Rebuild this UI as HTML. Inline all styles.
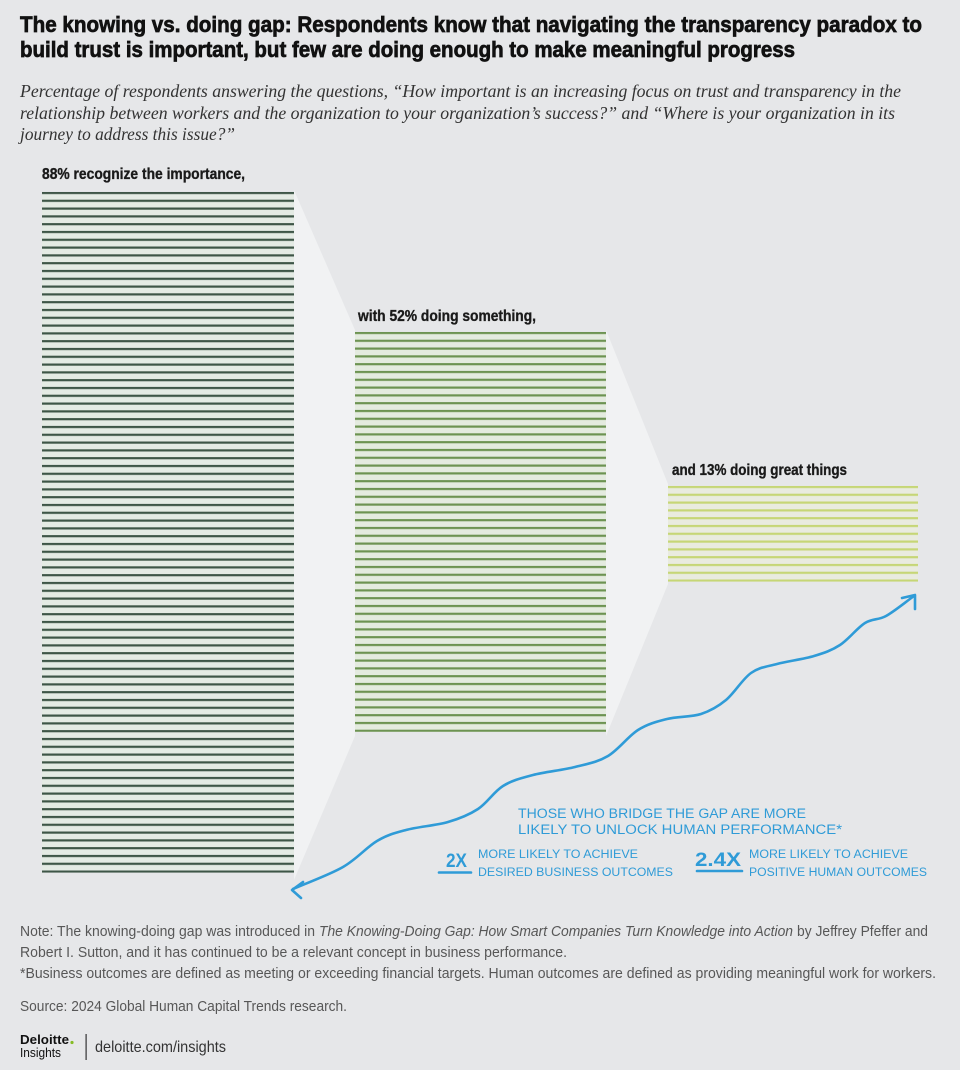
<!DOCTYPE html>
<html>
<head>
<meta charset="utf-8">
<style>
  html, body { margin: 0; padding: 0; background: #e6e7e9; }
  svg { display: block; }
</style>
</head>
<body>
<svg width="960" height="1070" viewBox="0 0 960 1070" xmlns="http://www.w3.org/2000/svg">
  <defs>
    <pattern id="pL" patternUnits="userSpaceOnUse" x="0" y="191.9" width="10" height="7.8">
      <rect x="0" y="0" width="10" height="7.8" fill="#e4ebe4"/>
      <rect x="0" y="0" width="10" height="2.2" fill="#3e5647"/>
    </pattern>
    <pattern id="pM" patternUnits="userSpaceOnUse" x="0" y="331.9" width="10" height="7.8">
      <rect x="0" y="0" width="10" height="7.8" fill="#e4ebdf"/>
      <rect x="0" y="0" width="10" height="2.2" fill="#6d9352"/>
    </pattern>
    <pattern id="pR" patternUnits="userSpaceOnUse" x="0" y="485.9" width="10" height="7.8">
      <rect x="0" y="0" width="10" height="7.8" fill="#e9ebdf"/>
      <rect x="0" y="0" width="10" height="2.2" fill="#c6d676"/>
    </pattern>
  </defs>

  <rect x="0" y="0" width="960" height="1070" fill="#e6e7e9"/>

  <!-- Title -->
  <g font-family="'Liberation Sans', sans-serif" font-weight="bold" font-size="22" fill="#111" stroke="#111" stroke-width="0.7">
    <text x="20" y="32" textLength="902" lengthAdjust="spacingAndGlyphs">The knowing vs. doing gap: Respondents know that navigating the transparency paradox to</text>
    <text x="20" y="57" textLength="775" lengthAdjust="spacingAndGlyphs">build trust is important, but few are doing enough to make meaningful progress</text>
  </g>

  <!-- Subtitle -->
  <g font-family="'Liberation Serif', serif" font-style="italic" font-size="17.5" fill="#333">
    <text x="20" y="97" textLength="881" lengthAdjust="spacingAndGlyphs">Percentage of respondents answering the questions, “How important is an increasing focus on trust and transparency in the</text>
    <text x="20" y="119" textLength="875" lengthAdjust="spacingAndGlyphs">relationship between workers and the organization to your organization’s success?” and “Where is your organization in its</text>
    <text x="20" y="140" textLength="215" lengthAdjust="spacingAndGlyphs">journey to address this issue?”</text>
  </g>

  <!-- Funnel connectors -->
  <polygon points="294,190 355,330 355,736 294,880" fill="#f1f2f3"/>
  <polygon points="606,330 668,484 668,584 606,736" fill="#f1f2f3"/>

  <!-- Bars -->
  <rect x="42" y="191.9" width="252" height="680.8" fill="url(#pL)"/>
  <rect x="355" y="331.9" width="251" height="400" fill="url(#pM)"/>
  <rect x="668" y="485.9" width="250" height="95.8" fill="url(#pR)"/>

  <!-- Labels -->
  <g font-family="'Liberation Sans', sans-serif" font-weight="bold" font-size="16" fill="#1a1a1a" stroke="#1a1a1a" stroke-width="0.35">
    <text x="42" y="179" textLength="203" lengthAdjust="spacingAndGlyphs">88% recognize the importance,</text>
    <text x="358" y="321" textLength="178" lengthAdjust="spacingAndGlyphs">with 52% doing something,</text>
    <text x="672" y="475" textLength="175" lengthAdjust="spacingAndGlyphs">and 13% doing great things</text>
  </g>

  <!-- Blue curve -->
  <g fill="none" stroke="#2f9bd7" stroke-width="2.6" stroke-linecap="round" stroke-linejoin="round">
    <path d="M293,889 C309.7,881.7 329,875 343,867 C357,859 366.5,847.2 377,841 C387.5,834.8 394.2,833.2 406,830 C417.8,826.8 436,825.5 448,822 C460,818.5 468.8,815 478,809 C487.2,803 493.8,791.7 503,786 C512.2,780.3 521,778.2 533,775 C545,771.8 562.5,770.2 575,767 C587.5,763.8 597.5,762.2 608,756 C618.5,749.8 628.2,736.2 638,730 C647.8,723.8 656.5,721.7 667,719 C677.5,716.3 691.2,717.2 701,714 C710.8,710.8 717.7,706.8 726,700 C734.3,693.2 742.5,679 751,673 C759.5,667 766.5,666.8 777,664 C787.5,661.2 803.5,659.2 814,656 C824.5,652.8 831.5,650.5 840,645 C848.5,639.5 857.3,627.8 865,623 C872.7,618.2 877.8,620.5 886,616 C894.2,611.5 904.7,602.7 914,596"/>
    <path d="M902,598 L915,595 L915,609"/>
    <path d="M303,882 L292,890 L301,898"/>
    <path d="M439,872.5 L471,872.5"/>
    <path d="M697,871 L742,871"/>
  </g>

  <!-- Handwritten-style annotations -->
  <g font-family="'Liberation Sans', sans-serif" fill="#2f9bd7">
    <text x="518" y="818" font-size="13.5" textLength="288" lengthAdjust="spacingAndGlyphs">THOSE WHO BRIDGE THE GAP ARE MORE</text>
    <text x="518" y="834" font-size="13.5" textLength="324" lengthAdjust="spacingAndGlyphs">LIKELY TO UNLOCK HUMAN PERFORMANCE*</text>
    <text x="446" y="867" font-size="19" font-weight="bold" textLength="21" lengthAdjust="spacingAndGlyphs">2X</text>
    <text x="478" y="858" font-size="11.5" textLength="160" lengthAdjust="spacingAndGlyphs">MORE LIKELY TO ACHIEVE</text>
    <text x="478" y="876" font-size="11.5" textLength="195" lengthAdjust="spacingAndGlyphs">DESIRED BUSINESS OUTCOMES</text>
    <text x="695" y="866" font-size="19" font-weight="bold" textLength="46" lengthAdjust="spacingAndGlyphs">2.4X</text>
    <text x="749" y="858" font-size="11.5" textLength="159" lengthAdjust="spacingAndGlyphs">MORE LIKELY TO ACHIEVE</text>
    <text x="749" y="876" font-size="11.5" textLength="178" lengthAdjust="spacingAndGlyphs">POSITIVE HUMAN OUTCOMES</text>
  </g>

  <!-- Footer notes -->
  <g font-family="'Liberation Sans', sans-serif" font-size="15" fill="#575757">
    <text x="20" y="936" textLength="295" lengthAdjust="spacingAndGlyphs">Note: The knowing-doing gap was introduced in</text>
    <text x="319" y="936" font-style="italic" textLength="474" lengthAdjust="spacingAndGlyphs">The Knowing-Doing Gap: How Smart Companies Turn Knowledge into Action</text>
    <text x="797" y="936" textLength="131" lengthAdjust="spacingAndGlyphs">by Jeffrey Pfeffer and</text>
    <text x="20" y="957" textLength="547" lengthAdjust="spacingAndGlyphs">Robert I. Sutton, and it has continued to be a relevant concept in business performance.</text>
    <text x="20" y="978" textLength="916" lengthAdjust="spacingAndGlyphs">*Business outcomes are defined as meeting or exceeding financial targets. Human outcomes are defined as providing meaningful work for workers.</text>
    <text x="20" y="1011" textLength="327" lengthAdjust="spacingAndGlyphs">Source: 2024 Global Human Capital Trends research.</text>
  </g>

  <!-- Logo -->
  <g font-family="'Liberation Sans', sans-serif" fill="#111">
    <text x="20" y="1044" font-size="13" font-weight="bold" textLength="49" lengthAdjust="spacingAndGlyphs">Deloitte</text>
    <circle cx="72" cy="1042.5" r="1.6" fill="#86bc25"/>
    <text x="20" y="1057" font-size="13" textLength="41" lengthAdjust="spacingAndGlyphs">Insights</text>
    <rect x="85.5" y="1034" width="1.2" height="26" fill="#333"/>
    <text x="95" y="1052" font-size="16" fill="#333" textLength="131" lengthAdjust="spacingAndGlyphs">deloitte.com/insights</text>
  </g>
</svg>
</body>
</html>
